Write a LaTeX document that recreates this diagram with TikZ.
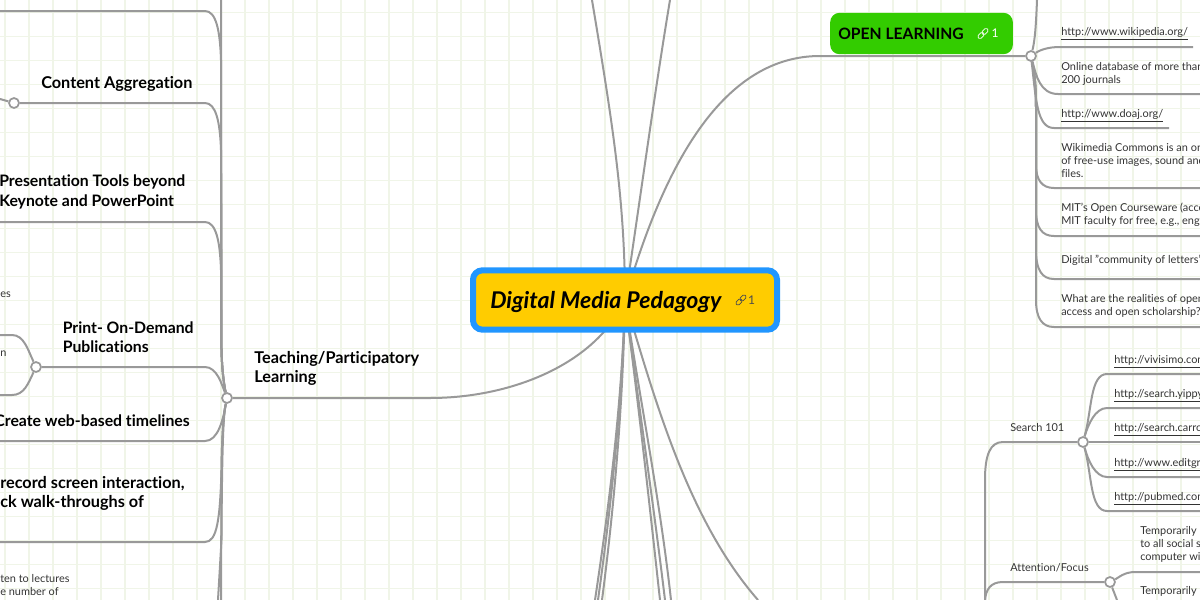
\documentclass[tikz,border=0pt]{standalone}
\usepackage{fontspec}
\setmainfont{Lato}[Ligatures=NoCommon]
\usetikzlibrary{positioning,backgrounds}
\definecolor{linegray}{HTML}{999999}
\definecolor{gridgreen}{HTML}{F0F5E8}
\definecolor{rootblue}{HTML}{2196FF}
\definecolor{rootyellow}{HTML}{FFCC00}
\definecolor{opengreen}{HTML}{33CC00}
\definecolor{smalltext}{HTML}{333333}
\tikzset{branch/.style={draw=linegray, line width=1.5pt}}
\tikzset{gridline/.style={draw=gridgreen, line width=0.9pt}}
\tikzset{jct/.style={circle, draw=linegray, fill=white, line width=1.3pt, inner sep=0pt, minimum size=7.5pt}}
\tikzset{topic/.style={anchor=west, inner sep=0pt, align=left, font=\fontsize{12.2}{14.6}\selectfont\bfseries}}
\tikzset{topicnarrow/.style={topic, font=\fontsize{11.85}{14.6}\selectfont\bfseries}}
\tikzset{leaf/.style={anchor=west, inner sep=0pt, align=left, text=smalltext, font=\fontsize{8.2}{9.75}\selectfont}}
\tikzset{linkcount/.style={inner sep=0pt, font=\fontsize{9}{10}\selectfont}}
\tikzset{linkbar/.style={draw, rotate=45, rounded corners=1.2pt, line width=0.6pt, inner sep=0pt, minimum width=5.2pt, minimum height=3pt}}
\begin{document}
\begin{tikzpicture}[x=0.75pt, y=0.75pt]
	\path[use as bounding box, clip] (0,0) rectangle (1200,-600);
	% central and green topics
	\node[draw=rootblue, fill=rootyellow, line width=4.5pt, rounded corners=7pt,
		minimum width=228pt, minimum height=44.5pt, inner sep=0pt] (root) at (625,-300) {};
	\node[topic, font=\fontsize{17.3}{20}\selectfont\bfseries\itshape] (roottitle) at (490,-302) {Digital Media Pedagogy};
	\node[linkbar, draw=black!70] (rootlinka) at (739,-302) {};
	\node[linkbar, draw=black!70] (rootlinkb) at (743,-298) {};
	\node[linkcount, text=black!70] (rootcount) at (751.5,-300) {1};
	\node[fill=opengreen, rounded corners=7pt, minimum width=137pt, minimum height=31pt, inner sep=0pt] (open) at (921.5,-33.5) {};
	\node[topic, font=\fontsize{11.75}{14.6}\selectfont\bfseries] (opentitle) at (838,-33.5) {OPEN LEARNING};
	\node[linkbar, draw=white] (openlinka) at (981,-35.5) {};
	\node[linkbar, draw=white] (openlinkb) at (985,-31.5) {};
	\node[linkcount, text=white] (opencount) at (995,-33.5) {1};

	% junctions
	\node[jct] (teachjct) at (227,-398) {};
	\node[jct] (aggjct) at (14,-103) {};
	\node[jct] (printjct) at (36,-367) {};
	\node[jct] (openjct) at (1031,-56) {};
	\node[jct] (searchjct) at (1083,-442) {};
	\node[jct] (attjct) at (1110,-582) {};

	% left side
	\node[topic] (agg) at (41,-83.5) {Content Aggregation};
	\node[topicnarrow] (present) at (-1,-192) {Presentation Tools beyond\\Keynote and PowerPoint};
	\node[topicnarrow] (print) at (62.5,-337) {Print- On-Demand\\Publications};
	\node[topic] (teach) at (254,-368.5) {Teaching/Participatory\\Learning};
	\node[topicnarrow, anchor=east] (timeline) at (190,-421) {Create web-based timelines};
	\node[topic] (screen) at (0,-493.5) {record screen interaction,\\ck walk-throughs of};
	\node[leaf] (leafes) at (0,-295) {es};
	\node[leaf] (leafn) at (0,-354) {n};
	\node[leaf] (leaften) at (0,-585) {ten to lectures\\e number of};

	% right side
	\node[leaf] (wiki) at (1061,-34) {\underline{http://www.wikipedia.org/}};
	\node[leaf] (online) at (1061,-74) {Online database of more than\\200 journals};
	\node[leaf] (doaj) at (1061,-116) {\underline{http://www.doaj.org/}};
	\node[leaf] (commons) at (1061,-161) {Wikimedia Commons is an on\\of free-use images, sound and\\files.};
	\node[leaf] (mit) at (1061,-215) {MIT's Open Courseware (acce\\MIT faculty for free, e.g., engi};
	\node[leaf] (letters) at (1061,-260.5) {Digital "community of letters"};
	\node[leaf] (realities) at (1061,-306) {What are the realities of open\\access and open scholarship?};
	\node[leaf] (search) at (1010,-428) {Search 101};
	\node[leaf] (vivisimo) at (1114,-362) {\underline{http://vivisimo.com}};
	\node[leaf] (yippy) at (1114,-396) {\underline{http://search.yippy}};
	\node[leaf] (carrot) at (1114,-430) {\underline{http://search.carro}};
	\node[leaf] (editgr) at (1114,-465) {\underline{http://www.editgr}};
	\node[leaf] (pubmed) at (1114,-499) {\underline{http://pubmed.com}};
	\node[leaf] (attention) at (1010,-568) {Attention/Focus};
	\node[leaf] (temp) at (1140,-544.5) {Temporarily b\\to all social s\\computer wi};
	\node[leaf] (tempb) at (1140,-591) {Temporarily b};

	% free ends
	\coordinate (upleft) at (592,0);
	\coordinate (upright) at (670,0);
	\coordinate (downa) at (595,-600);
	\coordinate (downb) at (598,-600);
	\coordinate (downc) at (602,-600);
	\coordinate (downd) at (660,-600);
	\coordinate (downe) at (665,-600);
	\coordinate (downf) at (671,-600);
	\coordinate (downg) at (758,-600);
	\coordinate (teachtop) at (221,0);
	\coordinate (teachbota) at (221,-600);
	\coordinate (teachbotb) at (218,-600);
	\coordinate (firstend) at (0,-11);
	\coordinate (aggend) at (0,-99);
	\coordinate (presentend) at (0,-222);
	\coordinate (printupend) at (0,-335);
	\coordinate (printlowend) at (0,-395);
	\coordinate (timelineend) at (0,-441);
	\coordinate (screenend) at (0,-542);
	\coordinate (opentop) at (1037,0);
	\coordinate (wikiend) at (1193,-47);
	\coordinate (onlineend) at (1200,-94);
	\coordinate (doajend) at (1169,-128);
	\coordinate (commonsend) at (1200,-188);
	\coordinate (mitend) at (1200,-236);
	\coordinate (lettersend) at (1200,-279);
	\coordinate (realitiesend) at (1200,-327);
	\coordinate (lowright) at (985,-600);
	\coordinate (vivisimoend) at (1200,-374);
	\coordinate (yippyend) at (1200,-408);
	\coordinate (carrotend) at (1200,-442);
	\coordinate (editgrend) at (1200,-477);
	\coordinate (pubmedend) at (1200,-511);
	\coordinate (tempend) at (1200,-572);
	\coordinate (tempbend) at (1117,-600);

	\begin{scope}[on background layer]
		\draw[gridline, shift={(5,11.3)}] (-24,-624) grid[step=24] (1200,0);

		% from the central topic
		\draw[branch] (root.center) .. controls (625,-200) and (612,-120) .. (upleft);
		\draw[branch] (root.center) .. controls (640,-200) and (655,-90) .. (upright);
		\draw[branch] (root.center) .. controls (665,-160) and (725,-56) .. (820,-56) -- (openjct);
		\draw[branch] (root.center) .. controls (595,-365) and (510,-398) .. (430,-398) -- (teachjct);
		\draw[branch] (root.center) .. controls (622,-400) and (610,-500) .. (downa);
		\draw[branch] (root.center) .. controls (622,-400) and (612,-500) .. (downb);
		\draw[branch] (root.center) .. controls (623,-400) and (615,-500) .. (downc);
		\draw[branch] (root.center) .. controls (638,-400) and (649,-500) .. (downd);
		\draw[branch] (root.center) .. controls (638,-400) and (653,-500) .. (downe);
		\draw[branch] (root.center) .. controls (640,-400) and (660,-500) .. (downf);
		\draw[branch] (root.center) .. controls (655,-400) and (688,-520) .. (downg);

		% teaching branches
		\draw[branch] (teachjct) .. controls (224,-385) and (222,-370) .. (221.5,-350) -- (teachtop);
		\draw[branch] (teachjct) .. controls (224,-385) and (222,-370) .. (221.5,-350) -- (221,-60) .. controls (220,-30) and (216,-11) .. (205,-11) -- (firstend);
		\draw[branch] (teachjct) .. controls (224,-385) and (222,-370) .. (221.5,-350) -- (221,-150) .. controls (220,-122) and (216,-103) .. (205,-103) -- (aggjct);
		\draw[branch] (aggjct) -- (aggend);
		\draw[branch] (teachjct) .. controls (224,-385) and (222,-370) .. (221.5,-350) -- (221,-270) .. controls (220,-241) and (216,-222) .. (205,-222) -- (presentend);
		\draw[branch] (teachjct) .. controls (222,-385) and (217,-367) .. (205,-367) -- (printjct);
		\draw[branch] (printjct) .. controls (28,-350) and (24,-335) .. (12,-335) -- (printupend);
		\draw[branch] (printjct) .. controls (28,-384) and (24,-395) .. (12,-395) -- (printlowend);
		\draw[branch] (teachjct) .. controls (223,-420) and (218,-441) .. (205,-441) -- (timelineend);
		\draw[branch] (teachjct) .. controls (224,-412) and (222,-430) .. (221.5,-470) .. controls (220,-520) and (217,-542) .. (205,-542) -- (screenend);
		\draw[branch] (teachjct) .. controls (224,-412) and (222,-430) .. (221.5,-470) -- (teachbota);
		\draw[branch] (teachjct) .. controls (224,-412) and (222,-430) .. (221.5,-540) -- (teachbotb);

		% open learning branches
		\draw[branch] (openjct) .. controls (1035,-40) and (1036,-25) .. (opentop);
		\draw[branch] (openjct) .. controls (1040,-50) and (1048,-47) .. (1060,-47) -- (wikiend);
		\draw[branch] (openjct) .. controls (1036,-75) and (1040,-94) .. (1058,-94) -- (onlineend);
		\draw[branch] (openjct) .. controls (1036,-100) and (1037,-128) .. (1054,-128) -- (doajend);
		\draw[branch] (openjct) .. controls (1035,-75) and (1036,-90) .. (1036,-110) -- (1036,-165) .. controls (1036,-180) and (1042,-188) .. (1054,-188) -- (commonsend);
		\draw[branch] (openjct) .. controls (1035,-75) and (1036,-90) .. (1036,-110) -- (1036,-210) .. controls (1036,-228) and (1042,-236) .. (1054,-236) -- (mitend);
		\draw[branch] (openjct) .. controls (1035,-75) and (1036,-90) .. (1036,-110) -- (1036,-250) .. controls (1036,-270) and (1042,-279) .. (1054,-279) -- (lettersend);
		\draw[branch] (openjct) .. controls (1035,-75) and (1036,-90) .. (1036,-110) -- (1036,-300) .. controls (1036,-318) and (1042,-327) .. (1054,-327) -- (realitiesend);

		% search and attention
		\draw[branch] (lowright) -- (985,-480) .. controls (985,-455) and (990,-442) .. (1003,-442) -- (searchjct);
		\draw[branch] (lowright) .. controls (986,-590) and (990,-582) .. (1003,-582) -- (attjct);
		\draw[branch] (searchjct) .. controls (1092,-410) and (1090,-374) .. (1107,-374) -- (vivisimoend);
		\draw[branch] (searchjct) .. controls (1088,-425) and (1095,-408) .. (1107,-408) -- (yippyend);
		\draw[branch] (searchjct) -- (carrotend);
		\draw[branch] (searchjct) .. controls (1088,-460) and (1095,-477) .. (1107,-477) -- (editgrend);
		\draw[branch] (searchjct) .. controls (1092,-475) and (1090,-511) .. (1107,-511) -- (pubmedend);
		\draw[branch] (attjct) .. controls (1118,-578) and (1124,-572) .. (1135,-572) -- (tempend);
		\draw[branch] (attjct) -- (tempbend);
	\end{scope}
\end{tikzpicture}
\end{document}
